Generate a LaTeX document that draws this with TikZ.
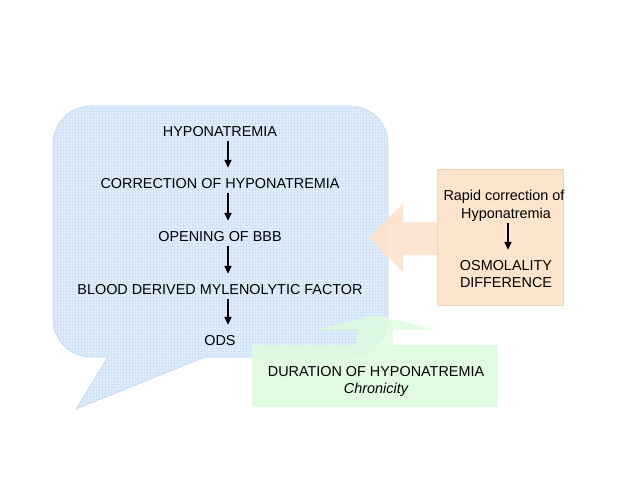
\documentclass[tikz,border=0pt]{standalone}
\usepackage{fontspec}
\setmainfont{Liberation Sans}
\usetikzlibrary{arrows.meta}
\definecolor{bubblefill}{RGB}{226,238,251}
\definecolor{bubbleline}{RGB}{188,213,240}
\definecolor{bubblegrid}{RGB}{210,227,246}
\definecolor{peach}{RGB}{252,228,205}
\definecolor{peachline}{RGB}{242,212,182}
\definecolor{mint}{RGB}{222,251,222}

\begin{document}
\begin{tikzpicture}[x=1pt, y=-1pt,
 lbl/.style={inner sep=0pt, anchor=base, text height=10.5pt, text depth=0pt, font=\fontsize{14.4}{17}\selectfont},
 flow/.style={-{Triangle[width=7pt,length=8pt]}, line width=1.5pt, shorten <=5pt, shorten >=9.5pt}]
 \useasboundingbox (0,0) rectangle (638,493);
 \draw[fill=bubblefill, draw=bubbleline, line width=0.6pt,
  path picture={\draw[bubblegrid, line width=0.3pt, step=3pt] (path picture bounding box.south west) grid (path picture bounding box.north east);}]
  (108,357) [rounded corners=38] -- (53,357) -- (53,106) -- (388,106) -- (388,357) [sharp corners] -- (205,357) -- (76,409) -- cycle;
 \fill[peach, fill opacity=0.92] (437,222) -- (403,222) -- (403,203) -- (368,238) -- (403,272) -- (403,255) -- (437,255) -- cycle;
 \draw[fill=peach, draw=peachline, line width=0.5pt] (437,169) rectangle (563,305);
 \fill[mint, fill opacity=0.85] (357,345) -- (357,330) -- (315,330) -- (376,315) -- (437,330) -- (393,330) -- (393,345) -- cycle;
 \fill[mint, fill opacity=0.9] (252,345) rectangle (498,407);

 \node[lbl] (hypo) at (220,136) {HYPONATREMIA};
 \node[lbl] (corr) at (220,188) {CORRECTION OF HYPONATREMIA};
 \node[lbl] (bbb) at (220,241) {OPENING OF BBB};
 \node[lbl] (factor) at (220,294) {BLOOD DERIVED MYLENOLYTIC FACTOR};
 \node[lbl] (ods) at (220,345) {ODS};
 \draw[flow] ([xshift=8pt]hypo.south) -- ([xshift=8pt]corr.north);
 \draw[flow] ([xshift=8pt]corr.south) -- ([xshift=8pt]bbb.north);
 \draw[flow] ([xshift=8pt]bbb.south) -- ([xshift=8pt]factor.north);
 \draw[flow] ([xshift=8pt]factor.south) -- ([xshift=8pt]ods.north);

 \node[lbl] (rapid) at (504,200) {Rapid correction of};
 \node[lbl] (rapidb) at (506,218) {Hyponatremia};
 \node[lbl] (osmo) at (506,270) {OSMOLALITY};
 \node[lbl] (osmob) at (506,287) {DIFFERENCE};
 \draw[flow] ([xshift=2pt]rapidb.south) -- ([xshift=2pt]osmo.north);

 \node[lbl] (dur) at (376,376) {DURATION OF HYPONATREMIA};
 \node[lbl, font=\fontsize{14.4}{17}\selectfont\itshape] (chron) at (376,393) {Chronicity};
\end{tikzpicture}
\end{document}
